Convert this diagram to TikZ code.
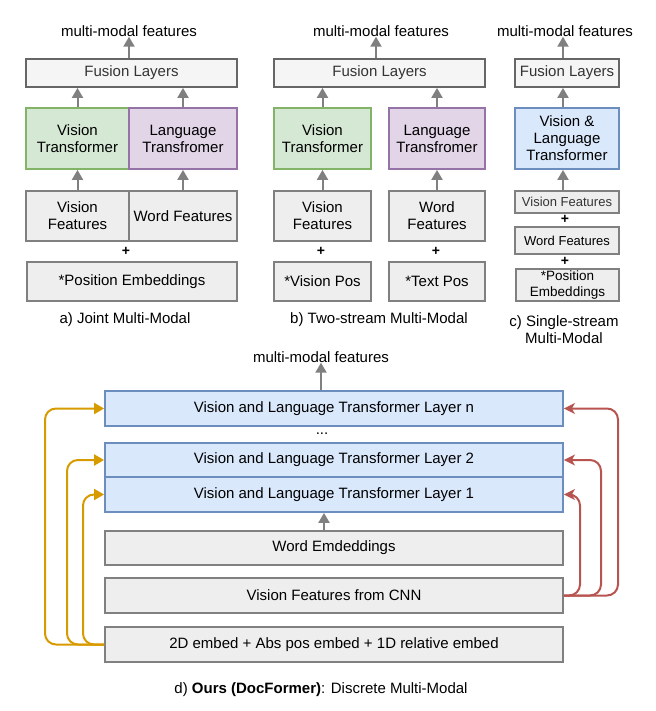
\documentclass[tikz,border=0pt]{standalone}
\usepackage{fontspec}
\setmainfont{Liberation Sans}
\usetikzlibrary{arrows.meta,calc}
\definecolor{gfill}{HTML}{EEEEEE}
\definecolor{ffill}{HTML}{F5F5F5}
\definecolor{fdraw}{HTML}{666666}
\definecolor{gdraw}{HTML}{808080}
\definecolor{ftext}{HTML}{333333}
\definecolor{grfill}{HTML}{D5E8D4}
\definecolor{grdraw}{HTML}{82B366}
\definecolor{pufill}{HTML}{E1D5E7}
\definecolor{pudraw}{HTML}{9673A6}
\definecolor{blfill}{HTML}{DAE8FC}
\definecolor{bldraw}{HTML}{6C8EBF}
\definecolor{orline}{HTML}{D79B00}
\definecolor{rdline}{HTML}{B85450}
\definecolor{arrgray}{HTML}{808080}
\tikzset{
  every node/.style={font=\fontsize{15}{17}\selectfont, inner sep=0pt, align=center},
  basebox/.style={line width=1.8pt, minimum width=#1},
  fusionbox/.style={basebox=#1, draw=fdraw, fill=ffill, text=ftext},
  graybox/.style={basebox=#1, draw=gdraw, fill=gfill},
  greenbox/.style={basebox=#1, draw=grdraw, fill=grfill},
  purplebox/.style={basebox=#1, draw=pudraw, fill=pufill},
  bluebox/.style={basebox=#1, draw=bldraw, fill=blfill},
  garrow/.style={draw=arrgray, line width=2pt, -{Triangle[length=10pt,width=11pt]}},
  oarrow/.style={draw=orline, line width=2pt, rounded corners=11pt, -{Triangle[length=10pt,width=11pt]}},
  rarrow/.style={draw=rdline, line width=2pt, rounded corners=11pt, -{Stealth[length=11pt,width=11pt,inset=3pt]}},
  plussign/.style={font=\fontsize{14}{16}\selectfont\bfseries},
  smalltext/.style={font=\fontsize{13}{15}\selectfont},
}
\begin{document}
\begin{tikzpicture}[x=1pt,y=-1pt]
\useasboundingbox (0,0) rectangle (655,711);

% ---------- panel a ----------
\node (mma) at (129,31) {multi-modal features};
\node[fusionbox=211pt, minimum height=28pt] (fa) at (131.5,73) {Fusion Layers};
\node[greenbox=103pt, minimum height=61pt] (vta) at (77.5,138.5) {Vision\\Transformer};
\node[purplebox=108pt, minimum height=61pt] (lta) at (183,138.5) {Language\\Transfromer};
\node[graybox=103pt, minimum height=50pt] (vfa) at (77.5,216) {Vision\\Features};
\node[graybox=108pt, minimum height=50pt] (wfa) at (183,216) {Word Features};
\node[plussign] (pa) at (126,251) {+};
\node[graybox=210pt, minimum height=39pt] (pea) at (132,281.5) {*Position Embeddings};
\node (capa) at (125,320) {a) Joint Multi-Modal};
\draw[garrow] (fa.north -| mma.south) -- (mma.south);
\draw[garrow] (vta.north) -- (vta.north |- fa.south);
\draw[garrow] (lta.north) -- (lta.north |- fa.south);
\draw[garrow] (vfa.north) -- (vta.south);
\draw[garrow] (wfa.north) -- (lta.south);

% ---------- panel b ----------
\node (mmb) at (381,31) {multi-modal features};
\node[fusionbox=211pt, minimum height=28pt] (fb) at (379.5,73) {Fusion Layers};
\node[greenbox=97pt, minimum height=61pt] (vtb) at (322.5,138.5) {Vision\\Transformer};
\node[purplebox=96pt, minimum height=61pt] (ltb) at (437,138.5) {Language\\Transfromer};
\node[graybox=97pt, minimum height=50pt] (vfb) at (322.5,216) {Vision\\Features};
\node[graybox=96pt, minimum height=50pt] (wfb) at (437,216) {Word\\Features};
\node[plussign] (pb1) at (321,251) {+};
\node[plussign] (pb2) at (436,251) {+};
\node[graybox=97pt, minimum height=39pt] (vpb) at (322.5,281.5) {*Vision Pos};
\node[graybox=96pt, minimum height=39pt] (tpb) at (437,281.5) {*Text Pos};
\node (capb) at (379,320) {b) Two-stream Multi-Modal};
\draw[garrow] (fb.north -| 376,0) -- (mmb.south -| 376,0);
\draw[garrow] (vtb.north) -- (vtb.north |- fb.south);
\draw[garrow] (ltb.north) -- (ltb.north |- fb.south);
\draw[garrow] (vfb.north) -- (vtb.south);
\draw[garrow] (wfb.north) -- (ltb.south);

% ---------- panel c ----------
\node (mmc) at (565,31) {multi-modal features};
\node[fusionbox=104pt, minimum height=28pt] (fc) at (567,73) {Fusion Layers};
\node[bluebox=104pt, minimum height=61pt] (vlc) at (567,138.5) {Vision \&\\Language\\Transformer};
\node[graybox=104pt, minimum height=22pt, text=ftext, smalltext] (vfc) at (567,202) {Vision Features};
\node[plussign] (pc1) at (565,219.5) {+};
\node[graybox=104pt, minimum height=27pt, smalltext] (wfc) at (567,240.5) {Word Features};
\node[plussign] (pc2) at (565,261.5) {+};
\node[graybox=103pt, minimum height=32pt, font=\fontsize{13.5}{15.5}\selectfont] (pec) at (567.5,285) {*Position\\Embeddings};
\node[font=\fontsize{15}{17}\selectfont] (capc) at (564,329.5) {c) Single-stream\\Multi-Modal};
\draw[garrow] (fc.north -| 563,0) -- (mmc.south -| 563,0);
\draw[garrow] (vlc.north -| 563,0) -- (fc.south -| 563,0);
\draw[garrow] (vfc.north -| 563,0) -- (vlc.south -| 563,0);

% ---------- panel d ----------
\node (mmd) at (321,357) {multi-modal features};
\node[bluebox=458pt, minimum height=35pt] (ln) at (334,408.5) {Vision and Language Transformer Layer n};
\node (dots) at (322,434) {...};
\node[bluebox=458pt, minimum height=34pt] (l2) at (334,460) {Vision and Language Transformer Layer 2};
\node[bluebox=458pt, minimum height=35pt] (l1) at (334,494.5) {Vision and Language Transformer Layer 1};
\node[graybox=458pt, minimum height=34pt] (we) at (334,548) {Word Emdeddings};
\node[graybox=458pt, minimum height=35pt] (vf) at (334,595.5) {Vision Features from CNN};
\node[graybox=458pt, minimum height=35pt] (pe) at (334,644.5) {2D embed + Abs pos embed + 1D relative embed};
\node (capd) at (321,690) {d) \textbf{Ours (DocFormer)}: Discrete Multi-Modal};
\draw[garrow] (ln.north -| mmd.south) -- (mmd.south);
\draw[garrow] (we.north -| 324,0) -- (l1.south -| 324,0);

\coordinate (oa) at (45,408.5);
\coordinate (ob) at (67,460);
\coordinate (oc) at (83,494.5);
\draw[oarrow] (pe.west) -| (oa) -- (ln.west);
\draw[oarrow] (pe.west) -| (ob) -- (l2.west);
\draw[oarrow] (pe.west) -| (oc) -- (l1.west);

\coordinate (ra) at (618,408.5);
\coordinate (rb) at (601,460);
\coordinate (rc) at (580,494.5);
\draw[rarrow] (vf.east) -| (ra) -- (ln.east);
\draw[rarrow] (vf.east) -| (rb) -- (l2.east);
\draw[rarrow] (vf.east) -| (rc) -- (l1.east);
\end{tikzpicture}
\end{document}
